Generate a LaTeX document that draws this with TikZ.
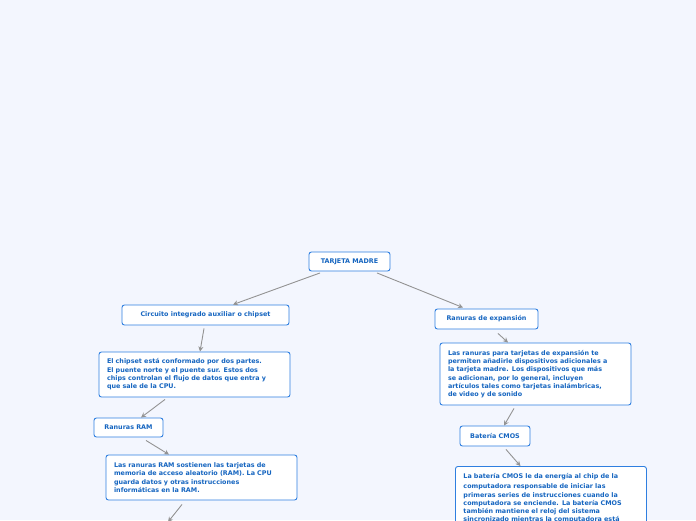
\documentclass[tikz,border=0pt]{standalone}
\usepackage{fontspec}
\setmainfont{DejaVu Sans}
\usetikzlibrary{arrows.meta}
\definecolor{bg}{HTML}{F3F6FE}
\definecolor{bd}{HTML}{2F7FE0}
\definecolor{tx}{HTML}{1565C0}
\newcommand{\nohyph}{\hyphenpenalty=10000\relax}
\tikzset{
 box/.style={draw=bd, line width=0.9pt, fill=white, rounded corners=2.5pt, text=tx,
   font={\bfseries\fontsize{6.4}{8.3}\selectfont\nohyph}, inner sep=0pt, align=center},
 tbox/.style={box, align=left, inner xsep=8pt, inner ysep=0pt},
 conn/.style={draw=gray!85, line width=0.9pt, -{Stealth[length=5pt,width=5pt]}}
}
\begin{document}
\begin{tikzpicture}[x=1pt,y=-1pt]
\fill[bg] (0,0) rectangle (696,520);
\useasboundingbox (0,0) rectangle (696,520);
\begin{scope}
\clip (0,0) rectangle (696,520);
\node[box, minimum width=81pt, minimum height=19pt] (tm) at (349.5,261.5) {TARJETA MADRE};
\node[box, minimum width=167pt, minimum height=20pt] (ci) at (205.5,315) {Circuito integrado auxiliar o chipset};
\node[tbox, text width=175pt, minimum height=45pt] (ch) at (194.5,374.5) {El chipset está conformado por dos partes.\\ El puente norte y el puente sur. Estos dos\\ chips controlan el flujo de datos que entra y\\ que sale de la CPU.};
\node[box, minimum width=69pt, minimum height=19pt] (rr) at (128.5,427.5) {Ranuras RAM};
\node[tbox, text width=175pt, minimum height=45pt] (rt) at (201.5,477.5) {Las ranuras RAM sostienen las tarjetas de\\ memoria de acceso aleatorio (RAM). La CPU\\ guarda datos y otras instrucciones\\ informáticas en la RAM.};
\node[box, minimum width=103pt, minimum height=20pt] (re) at (486.5,319) {Ranuras de expansión};
\node[tbox, text width=175pt, minimum height=62pt] (et) at (535.5,374) {Las ranuras para tarjetas de expansión te\\ permiten añadirle dispositivos adicionales a\\ la tarjeta madre. Los dispositivos que más\\ se adicionan, por lo general, incluyen\\ artículos tales como tarjetas inalámbricas,\\ de video y de sonido};
\node[box, minimum width=70pt, minimum height=20pt] (bc) at (495,436) {Batería CMOS};
\node[tbox, text width=175pt, minimum height=84pt, anchor=north west] (bt) at (455,466) {\vspace{2pt}La batería CMOS le da energía al chip de la\\ computadora responsable de iniciar las\\ primeras series de instrucciones cuando la\\ computadora se enciende. La batería CMOS\\ también mantiene el reloj del sistema\\ sincronizado mientras la computadora está\\ apagada.\par\vspace{12pt}};
\coordinate (off) at (168,522);
\draw[conn] ([xshift=-29.5pt,yshift=-1.5pt]tm.south) -- ([xshift=27.5pt]ci.north);
\draw[conn] ([xshift=27.5pt,yshift=-1.5pt]tm.south) -- ([xshift=-23.5pt,yshift=1pt]re.north);
\draw[conn] ([xshift=-1.5pt,yshift=-3pt]ci.south) -- ([xshift=5.5pt]ch.north);
\draw[conn] ([xshift=-29.5pt,yshift=-2pt]ch.south) -- ([xshift=12.5pt]rr.north);
\draw[conn] ([xshift=17.5pt,yshift=-3pt]rr.south) -- ([xshift=-32.5pt]rt.north);
\draw[conn] ([xshift=-19.5pt,yshift=-4pt]rt.south) -- (off);
\draw[conn] ([xshift=11.5pt,yshift=-4pt]re.south) -- ([xshift=-27.5pt]et.north);
\draw[conn] ([xshift=-21.5pt,yshift=-3pt]et.south) -- ([xshift=9pt]bc.north);
\draw[conn] ([xshift=11pt,yshift=-3pt]bc.south) -- ([xshift=-30.5pt]bt.north);
\end{scope}
\end{tikzpicture}
\end{document}
